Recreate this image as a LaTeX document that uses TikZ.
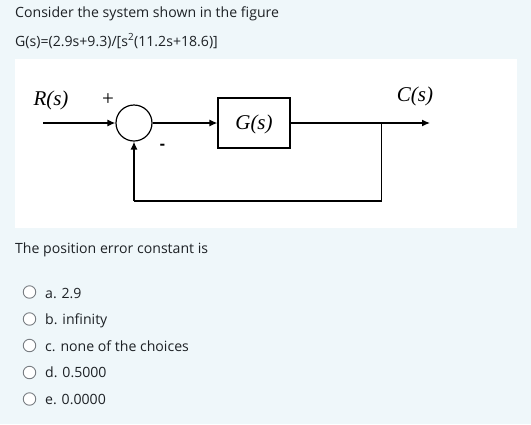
\documentclass[tikz,border=0pt]{standalone}
\usepackage{fontspec}
\setmainfont{Open Sans}
\newfontfamily\diagfont{Liberation Serif}
\usetikzlibrary{arrows.meta}
\definecolor{pagebg}{RGB}{239,247,250}
\definecolor{txt}{RGB}{29,33,37}
\definecolor{radiob}{RGB}{120,125,130}
\tikzset{
  qtext/.style={anchor=base west, inner sep=0pt, text=txt, font=\fontsize{14.1}{17}\selectfont},
  sig/.style={line width=1.3pt, -{Latex[length=8pt,width=7pt]}},
  wire/.style={line width=1.3pt},
  varlab/.style={inner sep=0pt, font=\diagfont\itshape\fontsize{21}{24}\selectfont},
  radio/.style={circle, draw=radiob, fill=white, line width=0.9pt, minimum size=12.5pt, inner sep=0pt},
}
\begin{document}
\begin{tikzpicture}[x=1pt,y=-1pt]
\fill[pagebg] (0,0) rectangle (531,424);
\useasboundingbox (0,0) rectangle (531,424);
\fill[white] (15,59) rectangle (517,228);

\node[qtext] (l1) at (15,17) {Consider the system shown in the figure};
\node[qtext] (l2) at (15,46) {G(s)=(2.9s+9.3)/[s\textsuperscript{2}(11.2s+18.6)]};

% diagram
\node[circle, draw, line width=1.2pt, minimum size=36pt, inner sep=0pt] (sum) at (134,123) {};
\node[draw, line width=1.2pt, minimum width=72pt, minimum height=50pt, inner sep=0pt] (g) at (254,123) {};
\node[varlab] (gl) at (254,124) {G(s)};
\node[varlab] (rl) at (51,100) {R(s)};
\node[varlab] (cl) at (415,96) {C(s)};
\node[inner sep=0pt, font=\diagfont\fontsize{21}{24}\selectfont] (plus) at (108,100) {+};
\node[inner sep=0pt, font=\bfseries\fontsize{16}{18}\selectfont] (minus) at (162.5,147) {-};

\coordinate (in) at (43,123);
\coordinate (out) at (430,123);
\coordinate (br) at (381.5,123);
\coordinate (bb) at (381.5,201);
\coordinate (bl) at (134,201);

\draw[sig] (in) -- (sum.west);
\draw[sig] (sum.east) -- (g.west);
\draw[sig] (g.east) -- (out);
\draw[wire] (br) -- (bb) -- (bl);
\draw[sig] (bl) -- (sum.south);

\node[qtext] (q) at (15,253) {The position error constant is};

\node[radio] (ra) at (29.5,292) {};
\node[radio] (rb) at (29.5,319) {};
\node[radio] (rc) at (29.5,345.5) {};
\node[radio] (rd) at (29.5,372.5) {};
\node[radio] (re) at (29.5,399) {};
\node[qtext] (oa) at (45,298) {a. 2.9};
\node[qtext] (ob) at (45,324.5) {b. infinity};
\node[qtext] (oc) at (45,351) {c. none of the choices};
\node[qtext] (od) at (45,377.5) {d. 0.5000};
\node[qtext] (oe) at (45,404) {e. 0.0000};
\end{tikzpicture}
\end{document}
